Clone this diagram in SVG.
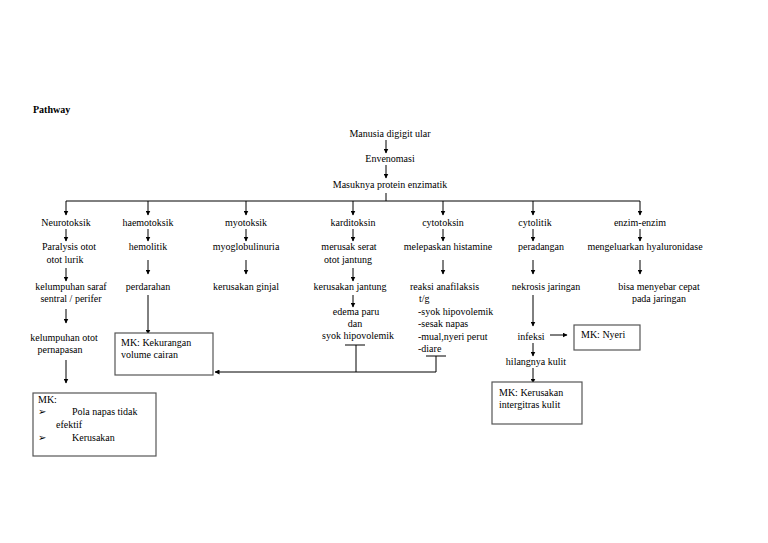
<svg xmlns="http://www.w3.org/2000/svg" width="768" height="543" viewBox="0 0 768 543">
<defs>
<marker id="ah" viewBox="0 0 10 10" refX="9" refY="5" markerWidth="5" markerHeight="5" orient="auto"><path d="M0,0L10,5L0,10z" fill="#000"/></marker>
<style>
text{font-family:"Liberation Serif",serif;font-size:10px;fill:#000}
.c{text-anchor:middle}
.ln{stroke:#000;stroke-width:1;fill:none}
.ar{stroke:#000;stroke-width:1;fill:none;marker-end:url(#ah)}
.bx{fill:#fff;stroke:#555;stroke-width:1.2}
</style>
</defs>
<rect width="768" height="543" fill="#fff"/>
<text x="33" y="113" style="font-weight:bold">Pathway</text>
<g id="connectors">
<path class="ar" d="M386,140V153"/>
<path class="ar" d="M386,165V178"/>
<path class="ln" d="M386,193V201M66,201H640"/>
<path class="ar" d="M66,201V215"/><path class="ar" d="M148,201V215"/><path class="ar" d="M246,201V215"/><path class="ar" d="M353,201V215"/><path class="ar" d="M443,201V215"/><path class="ar" d="M533,201V215"/><path class="ar" d="M640,201V215"/>
<path class="ar" d="M66,229V241"/><path class="ar" d="M148,229V241"/><path class="ar" d="M246,229V241"/><path class="ar" d="M353,229V241"/><path class="ar" d="M443,229V241"/><path class="ar" d="M533,229V241"/><path class="ar" d="M640,229V241"/>
<path class="ar" d="M66,268V281"/><path class="ar" d="M148,260V274"/><path class="ar" d="M246,260V274"/><path class="ar" d="M353,268V281"/><path class="ar" d="M443,260V274"/><path class="ar" d="M533,260V274"/><path class="ar" d="M640,260V274"/>
<path class="ar" d="M66,309V323"/><path class="ar" d="M66,360V383"/>
<path class="ar" d="M148,295V334"/>
<path class="ar" d="M353,295V307"/>
<path class="ln" d="M345,345H365M356,345V372M426,356H446M436,356V372"/>
<path class="ar" d="M436,372H215"/>
<path class="ar" d="M533,295V326"/>
<path class="ar" d="M550,335H567"/>
<path class="ar" d="M533,343V356"/><path class="ar" d="M533,368V383"/>
</g>
<g id="top"><text class="c" x="390" y="137">Manusia digigit ular</text><text class="c" x="390" y="162">Envenomasi</text><text class="c" x="390" y="188">Masuknya protein enzimatik</text></g>
<g id="col1"><text class="c" x="66" y="226">Neurotoksik</text><text class="c" x="69" y="250">Paralysis otot</text><text class="c" x="65" y="263">otot lurik</text><text class="c" x="71" y="290">kelumpuhan saraf</text><text class="c" x="71" y="302">sentral / perifer</text><text class="c" x="64" y="341">kelumpuhan otot</text><text class="c" x="60" y="353">pernapasan</text></g>
<g id="mk1"><rect class="bx" x="33" y="393" width="123" height="63"/><text x="38" y="403">MK:</text><text x="38" y="415">➢</text><text x="72" y="415">Pola napas tidak</text><text x="56" y="428">efektif</text><text x="38" y="441">➢</text><text x="72" y="441">Kerusakan</text></g>
<g id="col2"><text class="c" x="148" y="226">haemotoksik</text><text class="c" x="148" y="250">hemolitik</text><text class="c" x="148" y="290">perdarahan</text></g>
<g id="mk2"><rect class="bx" x="115" y="333" width="98" height="42"/><text x="121" y="346">MK: Kekurangan</text><text x="121" y="358">volume cairan</text></g>
<g id="col3"><text class="c" x="246" y="226">myotoksik</text><text class="c" x="246" y="250">myoglobulinuria</text><text class="c" x="246" y="290">kerusakan ginjal</text></g>
<g id="col4"><text class="c" x="353" y="226">karditoksin</text><text class="c" x="349" y="250">merusak serat</text><text class="c" x="348" y="263">otot jantung</text><text class="c" x="350" y="290">kerusakan jantung</text><text class="c" x="356" y="315">edema paru</text><text class="c" x="355" y="327">dan</text><text class="c" x="358" y="339">syok hipovolemik</text></g>
<g id="col5"><text class="c" x="443" y="226">cytotoksin</text><text class="c" x="448" y="250">melepaskan histamine</text><text x="410" y="290">reaksi anafilaksis</text><text x="419" y="302">t/g</text><text x="418" y="315">-syok hipovolemik</text><text x="418" y="327">-sesak napas</text><text x="418" y="340">-mual,nyeri perut</text><text x="418" y="352">-diare</text></g>
<g id="col6"><text class="c" x="535" y="226">cytolitik</text><text class="c" x="541" y="250">peradangan</text><text class="c" x="546" y="290">nekrosis jaringan</text><text class="c" x="531" y="340">infeksi</text><text class="c" x="536" y="365">hilangnya kulit</text></g>
<g id="mknyeri"><rect class="bx" x="574" y="325" width="66" height="25"/><text x="581" y="338">MK: Nyeri</text></g>
<g id="mk3"><rect class="bx" x="492" y="382" width="90" height="42"/><text x="499" y="396">MK: Kerusakan</text><text x="499" y="408">intergitras kulit</text></g>
<g id="col7"><text class="c" x="640" y="226">enzim-enzim</text><text class="c" x="645" y="250">mengeluarkan hyaluronidase</text><text class="c" x="659" y="290">bisa menyebar cepat</text><text class="c" x="659" y="302">pada jaringan</text></g>
</svg>
